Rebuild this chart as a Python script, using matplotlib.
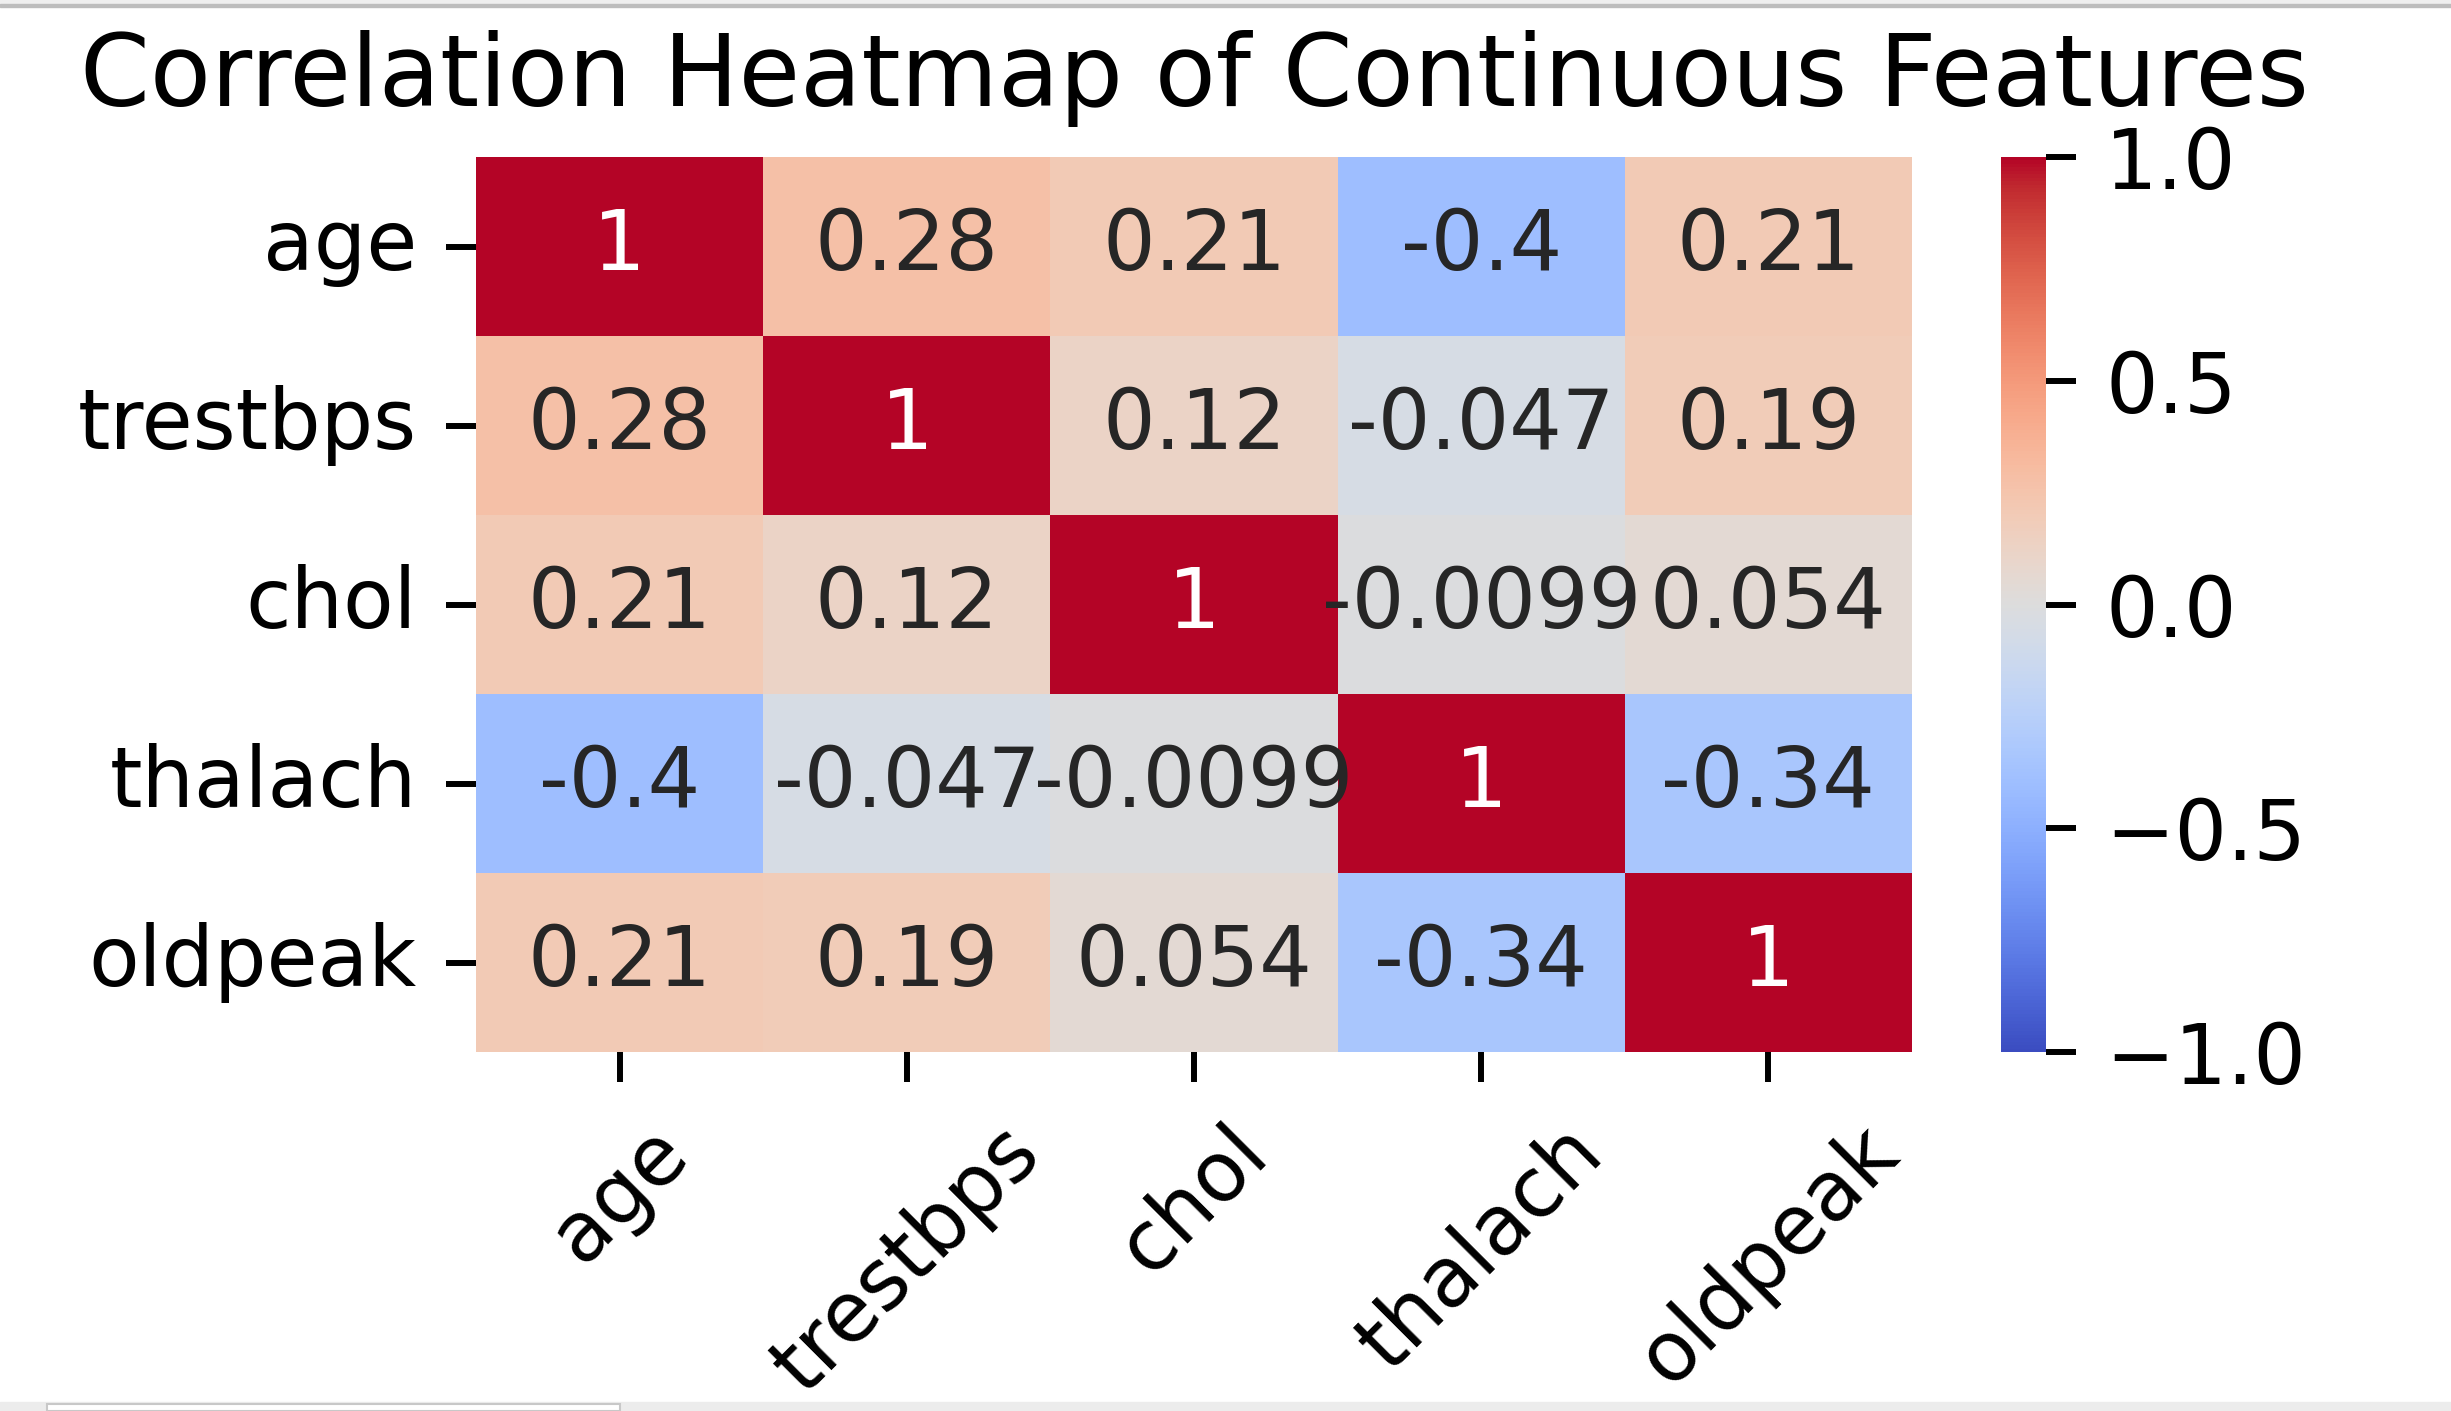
import matplotlib
matplotlib.use("Agg")
import matplotlib.pyplot as plt
import numpy as np
import seaborn as sns
from matplotlib.patches import Rectangle

# correlation matrix values
features = ['age', 'trestbps', 'chol', 'thalach', 'oldpeak']
row_age = [1, 0.28, 0.21, -0.4, 0.21]
row_trestbps = [0.28, 1, 0.12, -0.047, 0.19]
row_chol = [0.21, 0.12, 1, -0.0099, 0.054]
row_thalach = [-0.4, -0.047, -0.0099, 1, -0.34]
row_oldpeak = [0.21, 0.19, 0.054, -0.34, 1]
corr = np.array([row_age, row_trestbps, row_chol, row_thalach, row_oldpeak])
cbar_ticks = [-1.0, -0.5, 0.0, 0.5, 1.0]

W, H = 2451, 1411
fig = plt.figure(figsize=(W / 100, H / 100), dpi=100)

# axes placement in pixels
ax = fig.add_axes([476 / W, 1 - 1052 / H, (1912 - 476) / W, (1052 - 157) / H])
cax = fig.add_axes([2001 / W, 1 - 1052 / H, (2046 - 2001) / W, (1052 - 157) / H])

sns.heatmap(corr, annot=True, fmt='.2g', cmap='coolwarm', vmin=-1, vmax=1,
            xticklabels=features, yticklabels=features,
            annot_kws={'fontsize': 59.6}, ax=ax, cbar_ax=cax)

ax.set_title('Correlation Heatmap of Continuous Features', fontsize=72, pad=36.7)
ax.tick_params(axis='both', labelsize=59.6, length=21.6, width=4.3, pad=21)
plt.setp(ax.get_xticklabels(), rotation=45, ha='center')
plt.setp(ax.get_yticklabels(), rotation=0)

cax.set_yticks(cbar_ticks)
cax.tick_params(labelsize=59.6, length=21.6, width=4.3, pad=21)

# screenshot frame bands
fig.patches.append(Rectangle((0, 1 - 4 / H), 1, 4 / H, transform=fig.transFigure,
                             color='#efefef', zorder=-1))
fig.patches.append(Rectangle((0, 1 - 7 / H), 1, 3 / H, transform=fig.transFigure,
                             color='#bdbdbd', zorder=-1))
fig.patches.append(Rectangle((0, 0), 1, 9 / H, transform=fig.transFigure,
                             color='#ececec', zorder=-1))
fig.patches.append(Rectangle((47 / W, 0), (620 - 47) / W, 7 / H, transform=fig.transFigure,
                             facecolor='white', edgecolor='#c8c8c8', linewidth=1.5, zorder=0))

fig.savefig('out.png', dpi=100)
